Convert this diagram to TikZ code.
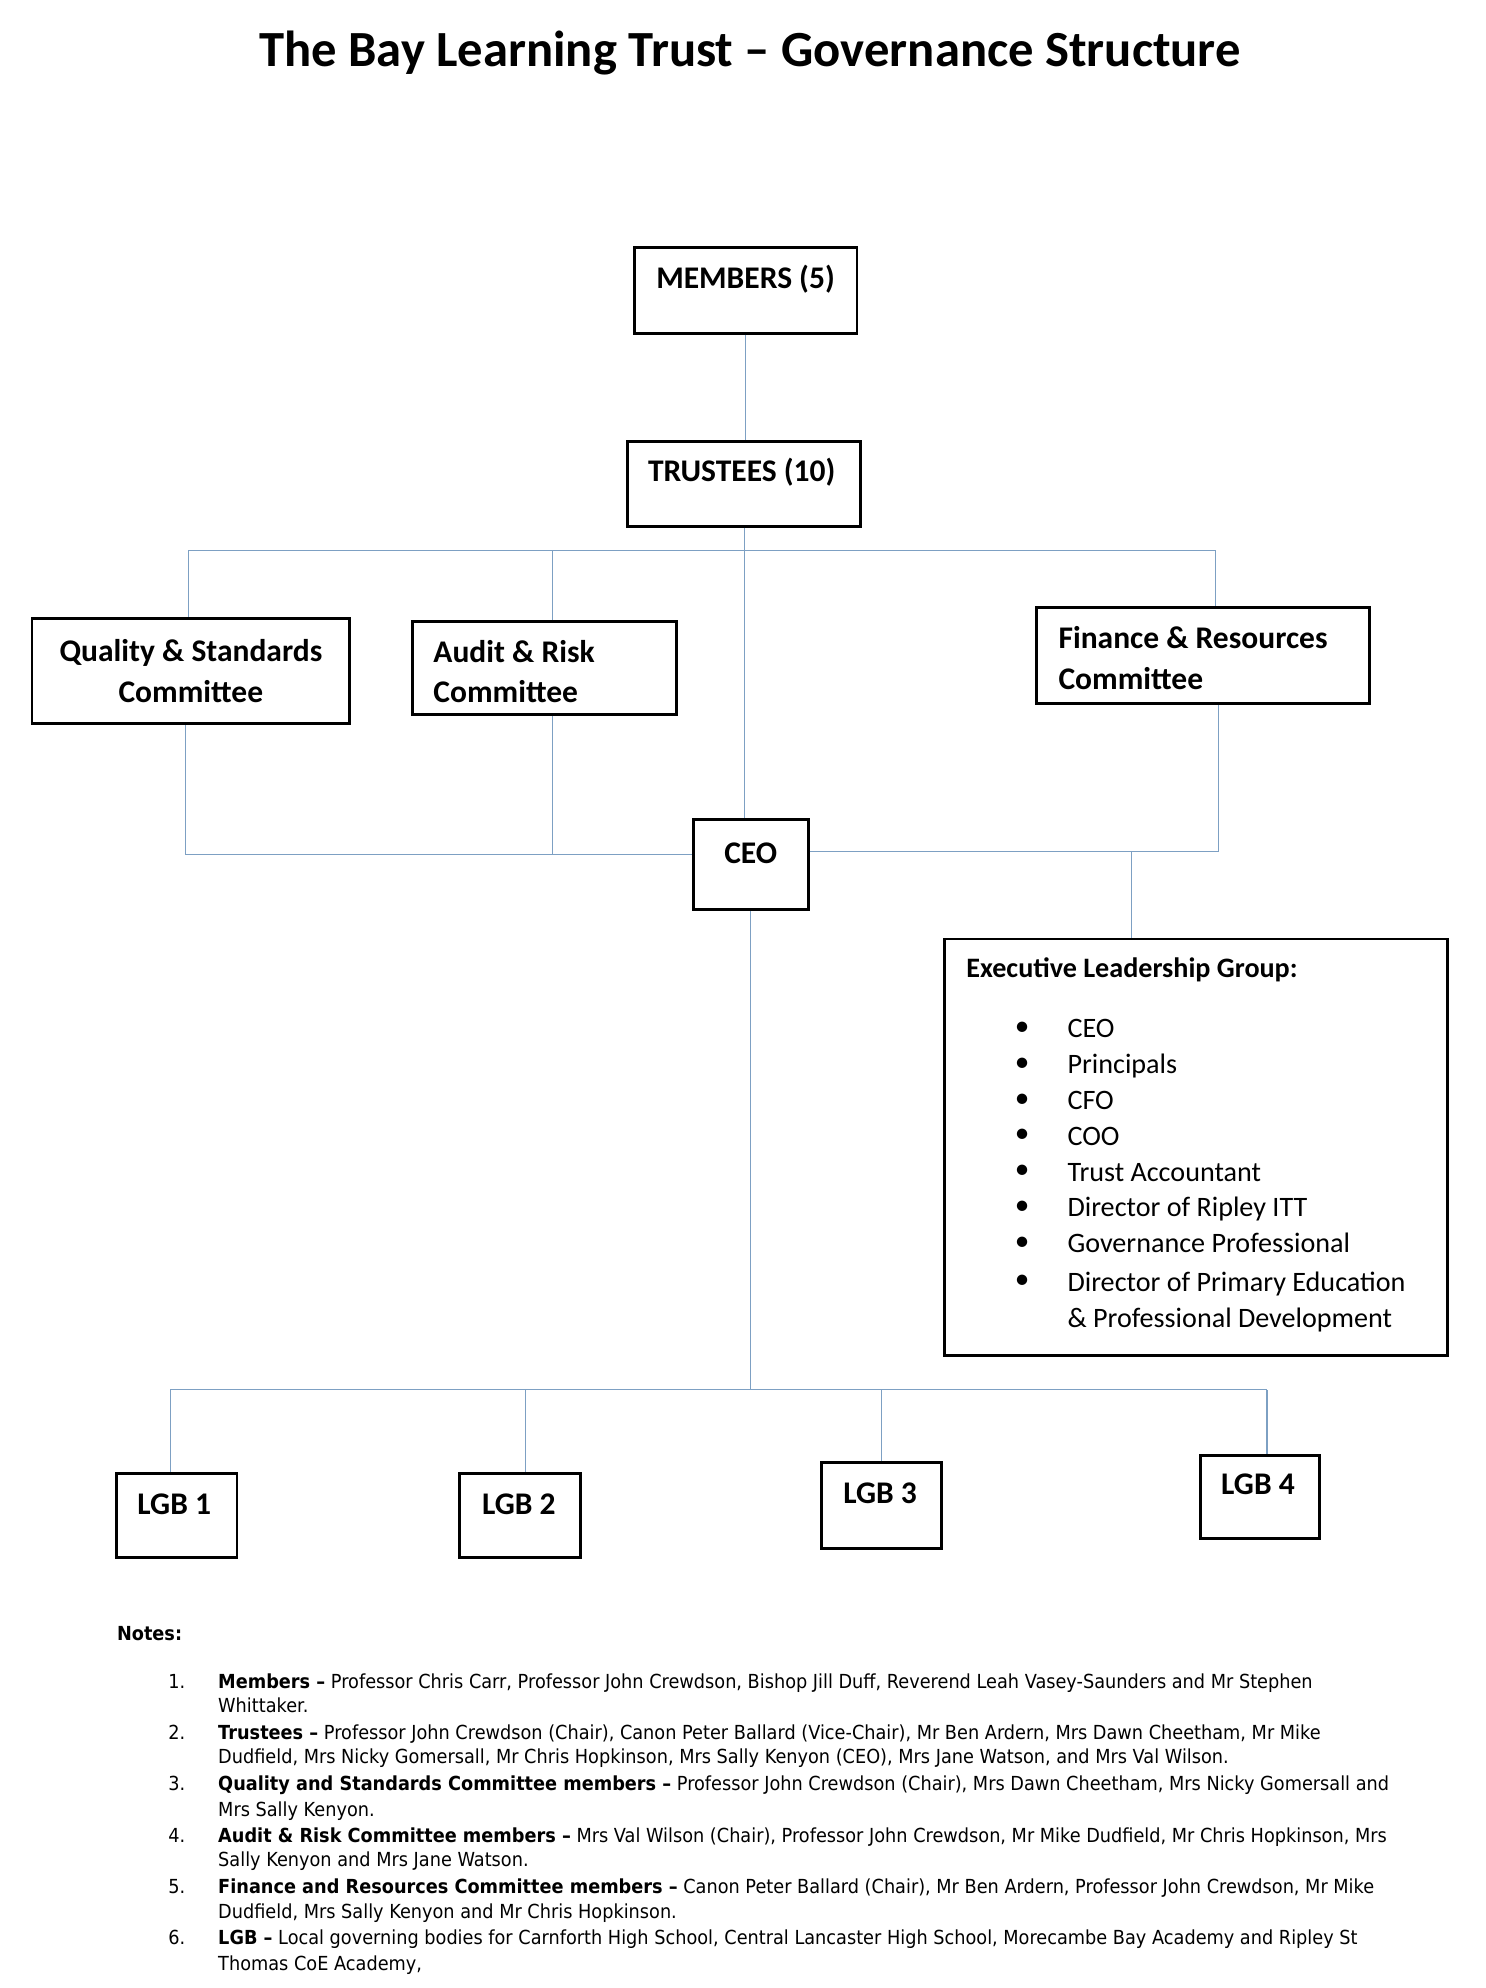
\documentclass[tikz,border=0pt]{standalone}
\usepackage{fontspec}
\setmainfont{Carlito}
\newfontfamily\notesfont[FakeStretch=0.915]{DejaVu Sans}
\usetikzlibrary{fit}
\definecolor{connblue}{RGB}{125,160,195}
\tikzset{
  box/.style={draw=black, line width=1.3pt, inner sep=0pt, rectangle},
  conn/.style={draw=connblue, line width=0.5pt},
  lbl/.style={inner sep=0pt, anchor=base, font=\fontsize{14}{17}\selectfont\bfseries},
  lblw/.style={lbl, anchor=base west},
  elgitem/.style={inner sep=0pt, anchor=base west, font=\fontsize{12.5}{15}\selectfont},
  bul/.style={inner sep=0pt, anchor=center, font=\fontsize{13}{15}\selectfont},
  note/.style={inner sep=0pt, anchor=base west, font=\notesfont\fontsize{8.6}{10}\selectfont},
}
\begin{document}
\begin{tikzpicture}[x=0.02cm,y=-0.02cm]
\useasboundingbox (0,0) rectangle (1160,1551.9);

% title
\node[inner sep=0pt, anchor=base, font=\fontsize{22.5}{27}\selectfont\bfseries] (title) at (585.5,52) {The Bay Learning Trust – Governance Structure};

% boxes
\node[box, fit={(495,193) (669,260)}] (members) {};
\node[box, fit={(490,345) (672,411)}] (trustees) {};
\node[box, fit={(25,483) (273,565)}] (qs) {};
\node[box, fit={(322,485) (528,558)}] (audit) {};
\node[box, fit={(809,474) (1069,549)}] (fin) {};
\node[box, fit={(541,640) (631,710)}] (ceo) {};
\node[box, fit={(737,733) (1130,1058)}] (elg) {};
\node[box, fit={(91,1150) (185,1216)}] (lgb1) {};
\node[box, fit={(359,1150) (453,1216)}] (lgb2) {};
\node[box, fit={(641,1142) (735,1209)}] (lgb3) {};
\node[box, fit={(937,1136) (1030,1201)}] (lgb4) {};

% box texts
\node[lbl] (membersT) at (582,225) {MEMBERS (5)};
\node[lbl] (trusteesT) at (579,376) {TRUSTEES (10)};
\node[lbl] (qsT1) at (149,516) {Quality \& Standards};
\node[lbl] (qsT2) at (149,548) {Committee};
\node[lblw] (auditT1) at (338,517) {Audit \& Risk};
\node[lblw] (auditT2) at (338,548) {Committee};
\node[lblw] (finT1) at (826,506) {Finance \& Resources};
\node[lblw] (finT2) at (826,538) {Committee};
\node[lbl] (ceoT) at (586,674) {CEO};
\node[lbl] (lgb1T) at (136,1182) {LGB 1};
\node[lbl] (lgb2T) at (405,1182) {LGB 2};
\node[lbl] (lgb3T) at (687,1174) {LGB 3};
\node[lbl] (lgb4T) at (982,1167) {LGB 4};

% ELG contents
\node[inner sep=0pt, anchor=base west, font=\fontsize{12.5}{15}\selectfont\bfseries] (elgT) at (754,763) {Executive Leadership Group:};
\foreach \n/\yy/\t in {1/810/CEO, 2/838/Principals, 3/866/CFO, 4/894/COO, 5/922/Trust Accountant, 6/950/Director of Ripley ITT, 7/978/Governance Professional, 8/1008/Director of Primary Education}{
  \node[bul] (bul\n) at (798,\yy-7) {•};
  \node[elgitem] (item\n) at (833,\yy) {\t};
}
\node[elgitem] (item9) at (833,1036) {\& Professional Development};

% connectors
\coordinate (busL) at (147,430);
\coordinate (busA) at (431,430);
\coordinate (busR) at (949,430);
\draw[conn] (members.south) -- (members.south |- trustees.north);
\draw[conn] (busL) -- (busR);
\draw[conn] (busL) -- (busL |- qs.north);
\draw[conn] (busA) -- (busA |- audit.north);
\draw[conn] (busR) -- (busR |- fin.north);
\draw[conn] (trustees.south) -- (trustees.south |- ceo.north);

\coordinate (lowL) at (145,667);
\coordinate (lowA) at (431,667);
\coordinate (lowR) at (951,665);
\coordinate (elgTop) at (883,665);
\draw[conn] (qs.south -| lowL) -- (lowL) -- (lowL -| ceo.west);
\draw[conn] (audit.south -| lowA) -- (lowA);
\draw[conn] (lowR -| ceo.east) -- (lowR) -- (lowR |- fin.south);
\draw[conn] (elgTop) -- (elgTop |- elg.north);

\coordinate (bbL) at (133,1085);
\coordinate (bb2) at (410,1085);
\coordinate (bbC) at (586,1085);
\coordinate (bb3) at (688,1085);
\coordinate (bbR) at (989,1085);
\draw[conn] (ceo.south) -- (bbC);
\draw[conn] (bbL) -- (bbR);
\draw[conn] (bbL) -- (bbL |- lgb1.north);
\draw[conn] (bb2) -- (bb2 |- lgb2.north);
\draw[conn] (bb3) -- (bb3 |- lgb3.north);
\draw[conn] (bbR) -- (bbR |- lgb4.north);

% notes
\node[note, font=\notesfont\fontsize{8.6}{10}\selectfont\bfseries] (notes) at (91,1281) {Notes:};
\foreach \n/\yy in {1/1318, 2/1358, 3/1398, 4/1438, 5/1478, 6/1518}{
  \node[note] (num\n) at (131,\yy) {\n.};
}
\node[note] (n1a) at (170,1318) {\textbf{Members –} Professor Chris Carr, Professor John Crewdson, Bishop Jill Duff, Reverend Leah Vasey-Saunders and Mr Stephen};
\node[note] (n1b) at (170,1337) {Whittaker.};
\node[note] (n2a) at (170,1358) {\textbf{Trustees –} Professor John Crewdson (Chair), Canon Peter Ballard (Vice-Chair), Mr Ben Ardern, Mrs Dawn Cheetham, Mr Mike};
\node[note] (n2b) at (170,1377) {Dudfield, Mrs Nicky Gomersall, Mr Chris Hopkinson, Mrs Sally Kenyon (CEO), Mrs Jane Watson, and Mrs Val Wilson.};
\node[note] (n3a) at (170,1398) {\textbf{Quality and Standards Committee members –} Professor John Crewdson (Chair), Mrs Dawn Cheetham, Mrs Nicky Gomersall and};
\node[note] (n3b) at (170,1418) {Mrs Sally Kenyon.};
\node[note] (n4a) at (170,1438) {\textbf{Audit \& Risk Committee members –} Mrs Val Wilson (Chair), Professor John Crewdson, Mr Mike Dudfield, Mr Chris Hopkinson, Mrs};
\node[note] (n4b) at (170,1457) {Sally Kenyon and Mrs Jane Watson.};
\node[note] (n5a) at (170,1478) {\textbf{Finance and Resources Committee members –} Canon Peter Ballard (Chair), Mr Ben Ardern, Professor John Crewdson, Mr Mike};
\node[note] (n5b) at (170,1498) {Dudfield, Mrs Sally Kenyon and Mr Chris Hopkinson.};
\node[note] (n6a) at (170,1518) {\textbf{LGB –} Local governing bodies for Carnforth High School, Central Lancaster High School, Morecambe Bay Academy and Ripley St};
\node[note] (n6b) at (170,1538) {Thomas CoE Academy,};
\end{tikzpicture}
\end{document}
